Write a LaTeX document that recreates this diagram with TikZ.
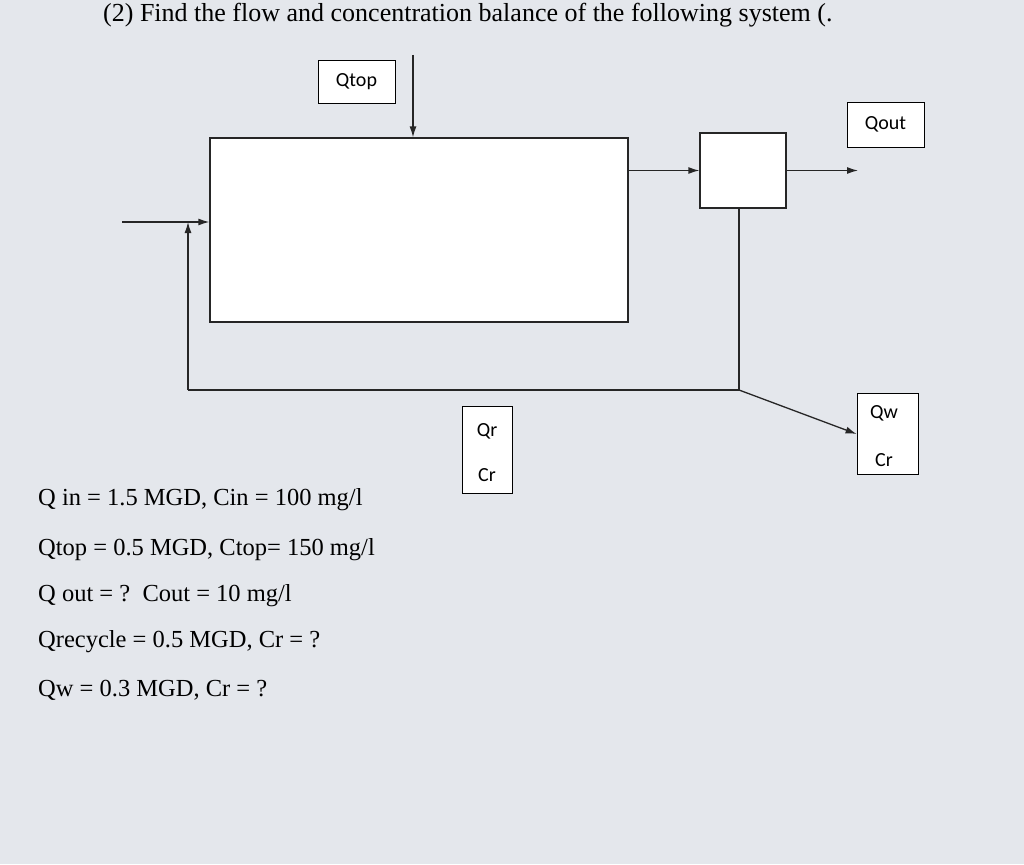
\documentclass[tikz,border=0pt]{standalone}
\usepackage{fontspec}
\usetikzlibrary{arrows.meta}
\setmainfont{Liberation Serif}
\newfontfamily\boxfont{Carlito}
\definecolor{paper}{RGB}{228,231,236}
\begin{document}
\begin{tikzpicture}[x=1pt,y=-1pt,
  ln/.style={line width=1.3pt,black!85},
  arr/.style={ln,-{Latex[length=11pt,width=7pt]}},
  lbl/.style={draw,line width=0.8pt,fill=white,font=\boxfont\fontsize{20}{22}\selectfont,inner sep=0pt},
  txt/.style={anchor=west,font=\fontsize{24.5}{28}\selectfont,inner sep=0pt}]
\fill[paper] (0,0) rectangle (1024,864);
\useasboundingbox (0,0) rectangle (1024,864);
\node[anchor=west,inner sep=0pt,font=\fontsize{26}{30}\selectfont] (title) at (103,15) {(2) Find the flow and concentration balance of the following system (.};
\node[lbl,minimum width=77pt,minimum height=43pt] (qtop) at (356.5,81.5) {Qtop};
\node[draw,ln,fill=white,minimum width=418pt,minimum height=184pt,inner sep=0pt] (tank) at (419,230) {};
\coordinate (topin) at (413,55);
\draw[arr] (topin) -- (tank.north -| topin);
\coordinate (inl) at (122,222);
\draw[arr] (inl) -- (inl -| tank.west);
\node[draw,ln,fill=white,minimum width=86pt,minimum height=75pt,inner sep=0pt] (clar) at (743,170.5) {};
\draw[arr] (tank.east |- clar) -- (clar.west);
\coordinate (outend) at (858,170.5);
\draw[arr] (clar.east) -- (outend);
\node[lbl,minimum width=77pt,minimum height=45pt] (qout) at (885.5,124.5) {Qout};
\coordinate (junc) at (739,390);
\coordinate (rc) at (188,390);
\draw[ln] (clar.south -| junc) -- (junc) -- (rc);
\draw[arr] (rc) -- (rc |- inl);
\node[lbl,minimum width=61pt,minimum height=81pt] (qw) at (887.5,433.5) {};
\node[font=\boxfont\fontsize{20}{22}\selectfont] (qwt) at (884,413) {Qw};
\node[font=\boxfont\fontsize{20}{22}\selectfont] (qwc) at (884,460) {Cr};
\draw[arr] (junc) -- (qw.west |- 0,434);
\node[lbl,minimum width=50pt,minimum height=87pt] (qr) at (487,449.5) {};
\node[font=\boxfont\fontsize{20}{22}\selectfont] (qrt) at (487,431) {Qr};
\node[font=\boxfont\fontsize{20}{22}\selectfont] (qrc) at (487,475) {Cr};
\node[txt] (t1) at (38,500) {Q in = 1.5 MGD, Cin = 100 mg/l};
\node[txt] (t2) at (38,550) {Qtop = 0.5 MGD, Ctop= 150 mg/l};
\node[txt] (t3) at (38,596) {Q out = ?\enspace Cout = 10 mg/l};
\node[txt] (t4) at (38,642) {Qrecycle = 0.5 MGD, Cr = ?};
\node[txt] (t5) at (38,690) {Qw = 0.3 MGD, Cr = ?};
\end{tikzpicture}
\end{document}
